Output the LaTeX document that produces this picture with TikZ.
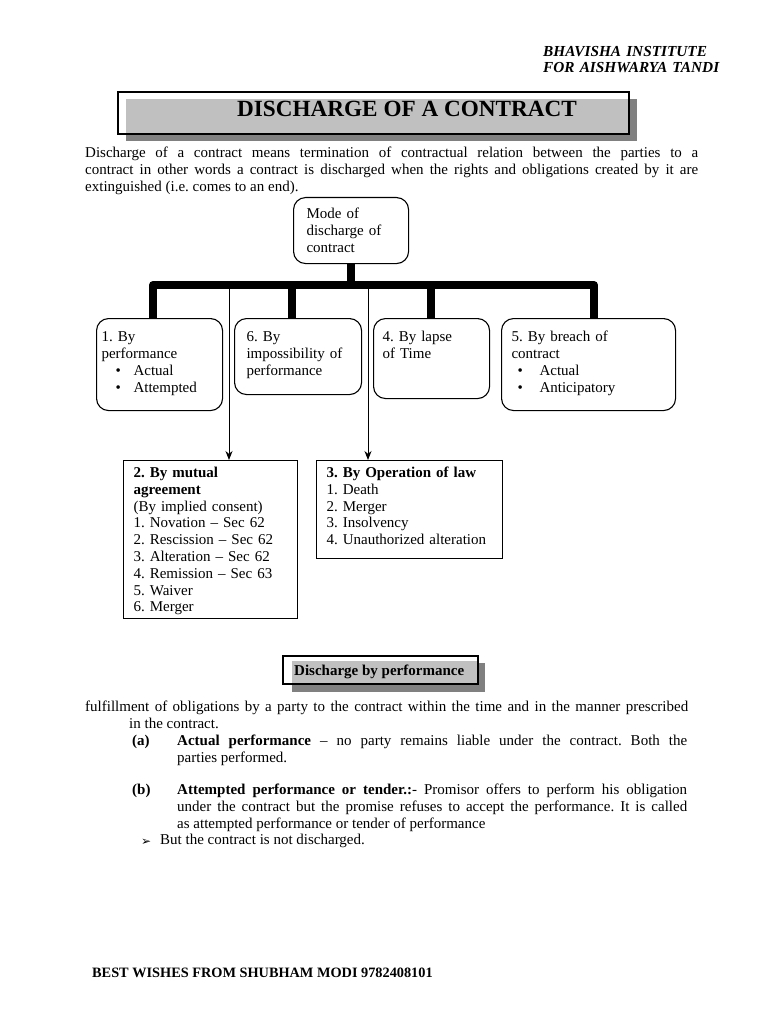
\documentclass[tikz,border=0pt]{standalone}
\usepackage{fontspec}
\setmainfont{Liberation Serif}
\newfontfamily\symfont{DejaVu Sans}
\usetikzlibrary{arrows.meta}
\definecolor{lightgr}{HTML}{C0C0C0}
\definecolor{darkgr}{HTML}{808080}
\newcommand{\listdot}[2]{\hspace*{#1}\makebox[#2][l]{\textbullet}}
\frenchspacing

\begin{document}
\begin{tikzpicture}[x=1pt, y=-1pt,
	txt/.style={inner sep=0pt, anchor=base west, font=\fontsize{15}{17}\selectfont},
	rbox/.style={draw, rounded corners=12pt, line width=1.1pt, anchor=north west, align=left, inner ysep=12pt, text height=11pt, font=\fontsize{15}{17}\selectfont},
	sbox/.style={draw, line width=1.1pt, anchor=north west, align=left, inner xsep=10pt, inner ysep=4pt, text height=13pt, font=\fontsize{15}{16.8}\selectfont},
	tree/.style={line width=8pt},
	>={Stealth[length=9pt,width=7pt]}]
				\useasboundingbox (0,0) rectangle (768,1024);
				% header and title
				\node[txt, text width=220pt, align=left, font=\fontsize{15.3}{16}\selectfont\bfseries\itshape] (inst) at (543,57) {BHAVISHA INSTITUTE\\FOR AISHWARYA TANDI};
				\fill[darkgr] (126,99) rectangle (637,141);
				\fill[lightgr] (126,99) rectangle (629,134);
				\draw[line width=1.1pt] (118,92) rectangle (629,134);
				\node[txt, font=\fontsize{23.2}{25}\selectfont\bfseries] (title) at (237,117) {DISCHARGE OF A CONTRACT};
				\node[txt, text width=613pt, align=justify] (intro) at (85,158) {Discharge of a contract means termination of contractual relation between the parties to a\linebreak contract in other words a contract is discharged when the rights and obligations created by it are\linebreak extinguished (i.e. comes to an end).};
				% modes of discharge
				\node[rbox, inner xsep=13pt, inner ysep=10pt, text width=89pt, text depth=35pt] (mode) at (293,197) {Mode of\\discharge of\\contract};
				\node[rbox, inner xsep=5pt, text width=116pt, text depth=57pt] (perf) at (96,318) {1. By\\performance\\\listdot{14pt}{18pt}Actual\\\listdot{14pt}{18pt}Attempted};
				\node[rbox, inner xsep=12pt, text width=103pt, text depth=41pt] (impos) at (234,318) {6. By\\impossibility of\\performance};
				\node[rbox, inner xsep=9pt, text width=98pt, text depth=45pt] (lapse) at (373,318) {4. By lapse\\of Time};
				\node[rbox, inner xsep=10pt, text width=154pt, text depth=57pt] (breach) at (501,318) {5. By breach of\\contract\\\listdot{6pt}{22pt}Actual\\\listdot{6pt}{22pt}Anticipatory};
				\node[sbox, text width=154pt, text depth=137pt] (mutual) at (123,460) {\textbf{2. By mutual}\\\textbf{agreement}\\(By implied consent)\\1. Novation -- Sec 62\\2. Rescission -- Sec 62\\3. Alteration -- Sec 62\\4. Remission -- Sec 63\\5. Waiver\\6. Merger};
				\node[sbox, text width=166pt, text depth=77pt] (oplaw) at (316,460) {\textbf{3. By Operation of law}\\1. Death\\2. Merger\\3. Insolvency\\4. Unauthorized alteration};
				\coordinate (j1) at (153,285);
				\coordinate (j6) at (292,285);
				\coordinate (j4) at (431,285);
				\coordinate (j5) at (594,285);
				\coordinate (t2) at (229,289);
				\coordinate (t3) at (368,289);
				\draw[tree] (mode.south) -- (mode.south |- j1);
				\draw[tree, line join=round] (j1 |- perf.north) -- (j1) -- (j5) -- (j5 |- breach.north);
				\draw[tree] (j6) -- (j6 |- impos.north);
				\draw[tree] (j4) -- (j4 |- lapse.north);
				\draw[->, line width=0.9pt] (t2) -- (t2 |- mutual.north);
				\draw[->, line width=0.9pt] (t3) -- (t3 |- oplaw.north);
				% discharge by performance
				\fill[darkgr] (292,663) rectangle (485,692);
				\fill[lightgr] (292,661) rectangle (478,684);
				\draw[line width=1.1pt] (283,656) rectangle (478,684);
				\node[txt, font=\fontsize{15}{16}\selectfont\bfseries] (dbp) at (294,675) {Discharge by performance};
				\node[txt] (fulfil) at (85,711) {\hbox to 603pt{fulfillment of obligations by a party to the contract within the time and in the manner prescribed}};
				\node[txt] (incontract) at (129,728) {in the contract.};
				\node[txt, font=\fontsize{15}{17}\selectfont\bfseries] (itema) at (132,745) {(a)};
				\node[txt, text width=510pt, align=justify] (actual) at (177,745) {\textbf{Actual performance} -- no party remains liable under the contract. Both the\linebreak parties performed.};
				\node[txt, font=\fontsize{15}{17}\selectfont\bfseries] (itemb) at (132,794) {(b)};
				\node[txt, text width=510pt, align=justify] (tender) at (177,794) {\textbf{Attempted performance or tender.:}- Promisor offers to perform his obligation\linebreak under the contract but the promise refuses to accept the performance. It is called\linebreak as attempted performance or tender of performance};
				\node[txt, font=\symfont\fontsize{12}{12}\selectfont] (pointer) at (141,845) {➢};
				\node[txt] (notdone) at (160,844) {But the contract is not discharged.};
				% footer
				\node[txt, font=\fontsize{14.3}{16}\selectfont\bfseries] (wishes) at (92,977) {BEST WISHES FROM SHUBHAM MODI 9782408101};
			\end{tikzpicture}
\end{document}
